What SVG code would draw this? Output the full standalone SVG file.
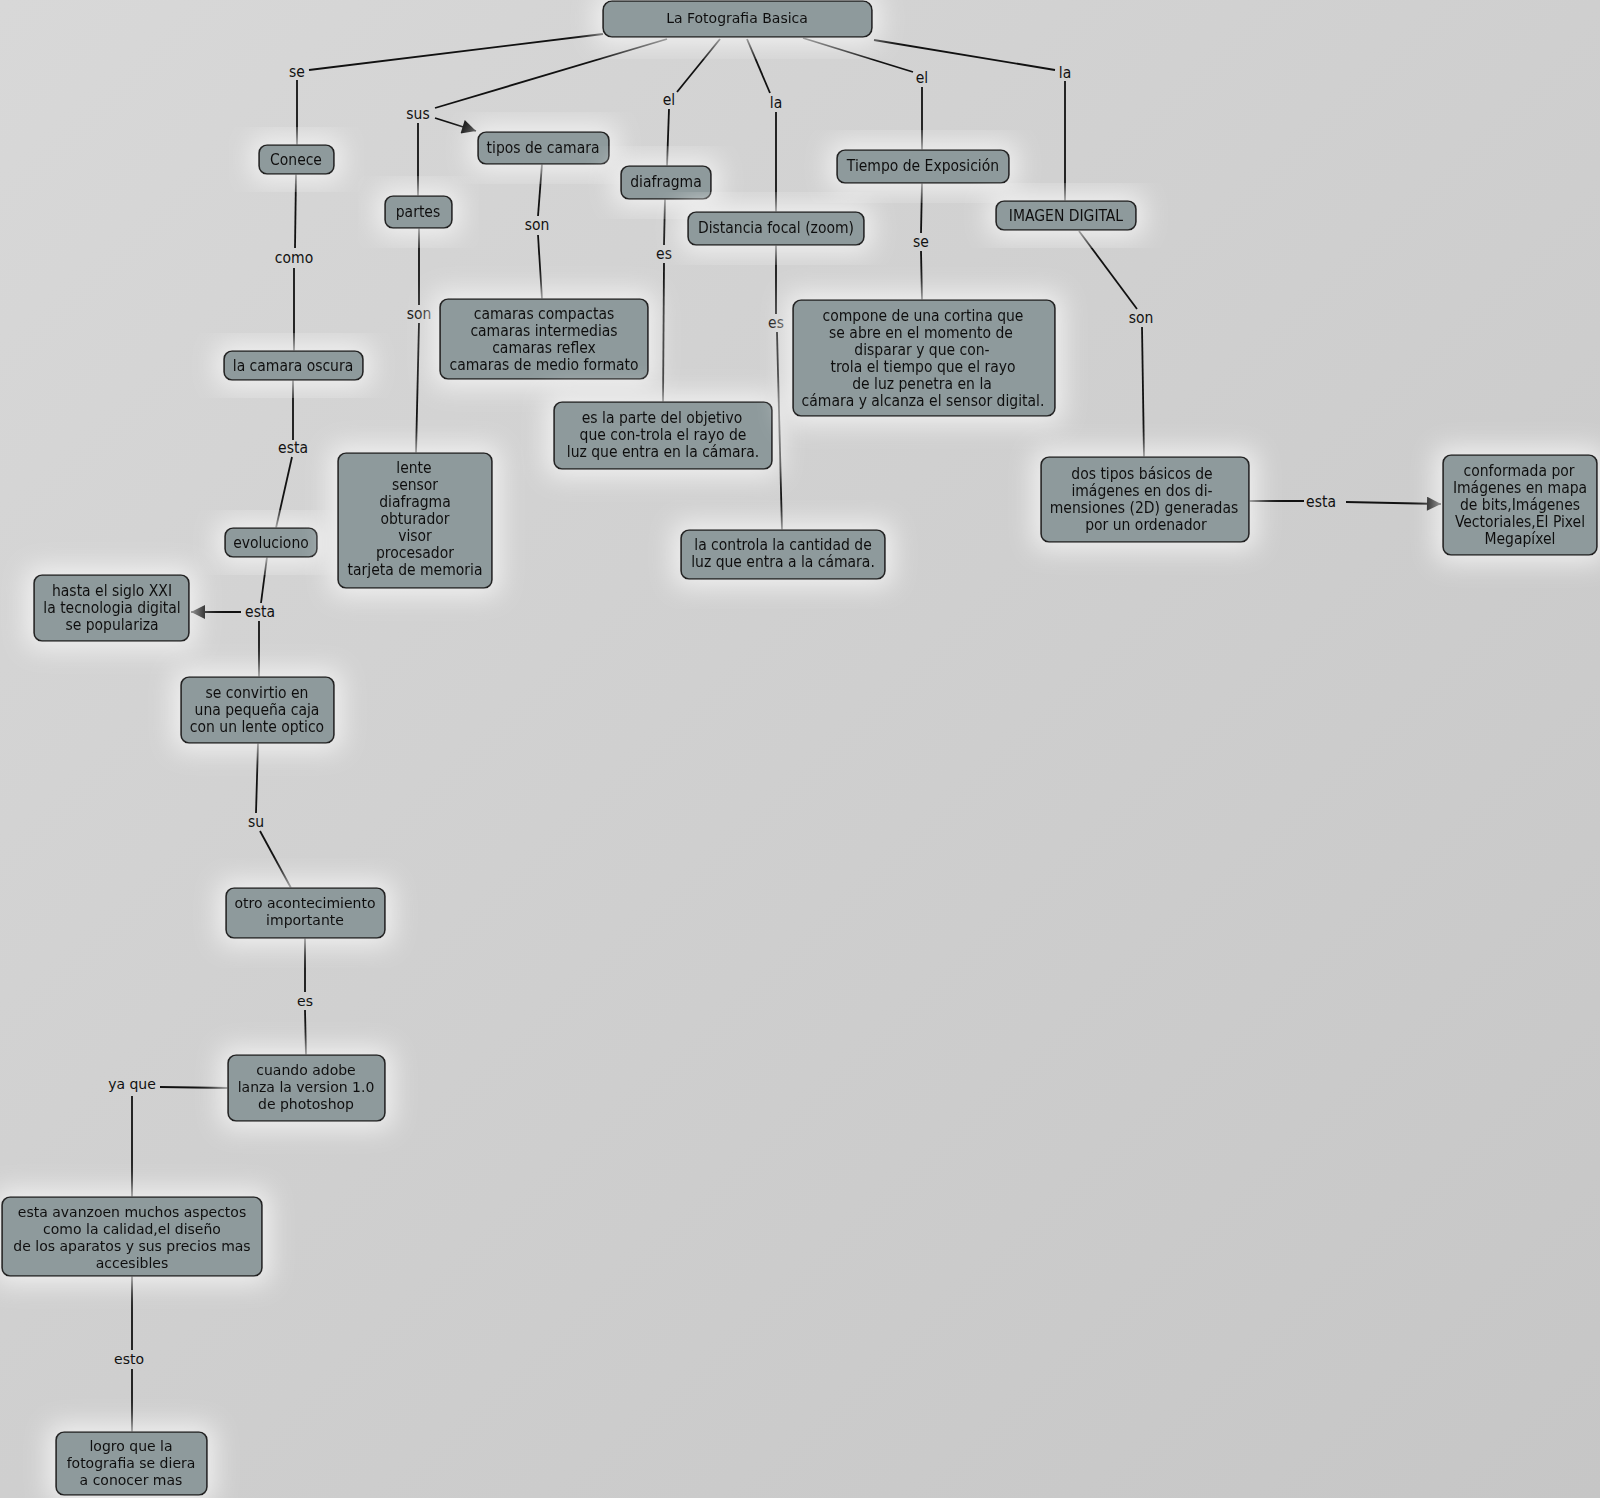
<svg xmlns="http://www.w3.org/2000/svg" width="1600" height="1498" viewBox="0 0 1600 1498">
<defs>
<linearGradient id="bg" x1="0" y1="0" x2="1" y2="1">
<stop offset="0" stop-color="#d8d8d8"/>
<stop offset="1" stop-color="#c6c6c6"/>
</linearGradient>
<filter id="glow" x="-40%" y="-60%" width="180%" height="220%">
<feMorphology in="SourceAlpha" operator="dilate" radius="7" result="d"/>
<feGaussianBlur in="d" stdDeviation="13" result="b"/>
<feFlood flood-color="#f4f4f4" flood-opacity="0.9"/>
<feComposite in2="b" operator="in" result="g"/>
<feMerge><feMergeNode in="g"/><feMergeNode in="SourceGraphic"/></feMerge>
</filter>
<marker id="arr" viewBox="0 0 10 10" refX="10" refY="5" markerWidth="15" markerHeight="14" markerUnits="userSpaceOnUse" orient="auto">
<path d="M0,0 L10,5 L0,10 z" fill="#000"/>
</marker>
<style>
.n rect{fill:#8e9a9c;stroke:#222;stroke-width:1.7}
.n{filter:url(#glow)}
.t{font-family:"DejaVu Sans Condensed","DejaVu Sans",sans-serif;font-stretch:condensed;font-size:15.5px;fill:#111;text-anchor:middle}
.w{font-family:"DejaVu Sans",Verdana,sans-serif;font-size:14px;fill:#111;text-anchor:middle}
.c line{stroke:#111;stroke-width:1.8}
.l{font-family:"DejaVu Sans Condensed","DejaVu Sans",sans-serif;font-stretch:condensed;font-size:15.5px;fill:#111;text-anchor:middle}
.lw{font-family:"DejaVu Sans",Verdana,sans-serif;font-size:14px;fill:#111;text-anchor:middle}
</style>
</defs>
<rect x="0" y="0" width="1600" height="1498" fill="url(#bg)"/>

<g id="connectors" class="c">
<line x1="603" y1="34" x2="309" y2="70"/>
<line x1="297" y1="80" x2="297" y2="145"/>
<line x1="296" y1="174" x2="295" y2="248"/>
<line x1="294" y1="268" x2="294" y2="351"/>
<line x1="293" y1="380" x2="293" y2="440"/>
<line x1="292" y1="457" x2="276" y2="528"/>
<line x1="267" y1="557" x2="261" y2="603"/>
<line x1="241" y1="612" x2="191" y2="612" marker-end="url(#arr)"/>
<line x1="259" y1="621" x2="259" y2="677"/>
<line x1="258" y1="743" x2="256" y2="813"/>
<line x1="260" y1="831" x2="291" y2="888"/>
<line x1="305" y1="938" x2="305" y2="992"/>
<line x1="305" y1="1010" x2="306" y2="1055"/>
<line x1="228" y1="1088" x2="160" y2="1087"/>
<line x1="132" y1="1096" x2="132" y2="1197"/>
<line x1="132" y1="1276" x2="132" y2="1350"/>
<line x1="132" y1="1369" x2="132" y2="1432"/>
<line x1="667" y1="39" x2="435" y2="108"/>
<line x1="435" y1="118" x2="476" y2="131" marker-end="url(#arr)"/>
<line x1="418" y1="123" x2="418" y2="196"/>
<line x1="419" y1="228" x2="419" y2="305"/>
<line x1="419" y1="323" x2="416" y2="453"/>
<line x1="542" y1="164" x2="538" y2="216"/>
<line x1="538" y1="235" x2="542" y2="299"/>
<line x1="720" y1="39" x2="677" y2="92"/>
<line x1="669" y1="109" x2="667" y2="166"/>
<line x1="665" y1="199" x2="664" y2="245"/>
<line x1="664" y1="263" x2="663" y2="402"/>
<line x1="747" y1="39" x2="770" y2="93"/>
<line x1="776" y1="112" x2="776" y2="212"/>
<line x1="776" y1="245" x2="776" y2="314"/>
<line x1="777" y1="332" x2="782" y2="530"/>
<line x1="803" y1="38" x2="913" y2="72"/>
<line x1="922" y1="87" x2="922" y2="150"/>
<line x1="922" y1="183" x2="921" y2="233"/>
<line x1="921" y1="251" x2="922" y2="300"/>
<line x1="874" y1="40" x2="1055" y2="70"/>
<line x1="1065" y1="81" x2="1065" y2="201"/>
<line x1="1079" y1="231" x2="1137" y2="309"/>
<line x1="1142" y1="327" x2="1144" y2="457"/>
<line x1="1249" y1="501" x2="1304" y2="501"/>
<line x1="1346" y1="502" x2="1441" y2="504" marker-end="url(#arr)"/>
</g>

<g id="labels">
<text class="l" x="297" y="77">se</text>
<text class="l" x="418" y="119">sus</text>
<text class="l" x="669" y="105">el</text>
<text class="l" x="776" y="108">la</text>
<text class="l" x="922" y="83">el</text>
<text class="l" x="1065" y="78">la</text>
<text class="l" x="294" y="263">como</text>
<text class="l" x="419" y="319">son</text>
<text class="l" x="537" y="230">son</text>
<text class="l" x="664" y="259">es</text>
<text class="l" x="776" y="328">es</text>
<text class="l" x="921" y="247">se</text>
<text class="l" x="1141" y="323">son</text>
<text class="l" x="293" y="453">esta</text>
<text class="l" x="260" y="617">esta</text>
<text class="l" x="256" y="827">su</text>
<text class="lw" x="305" y="1006">es</text>
<text class="lw" x="132" y="1089">ya que</text>
<text class="lw" x="129" y="1364">esto</text>
<text class="l" x="1321" y="507">esta</text>
</g>

<g id="n-root" class="n"><rect x="603" y="1" width="269" height="36" rx="9"/><text class="w" x="737" y="23">La Fotografia Basica</text></g>
<g id="n-conece" class="n"><rect x="259" y="145" width="75" height="29" rx="8"/><text class="t" x="296" y="165">Conece</text></g>
<g id="n-oscura" class="n"><rect x="224" y="351" width="139" height="29" rx="8"/><text class="t" x="293" y="371">la camara oscura</text></g>
<g id="n-evoluciono" class="n"><rect x="225" y="528" width="92" height="29" rx="8"/><text class="t" x="271" y="548">evoluciono</text></g>
<g id="n-hasta" class="n"><rect x="34" y="575" width="155" height="66" rx="8"/><text class="t" x="112" y="596">hasta el siglo XXI</text><text class="t" x="112" y="613">la tecnologia digital</text><text class="t" x="112" y="630">se populariza</text></g>
<g id="n-convirtio" class="n"><rect x="181" y="677" width="153" height="66" rx="8"/><text class="t" x="257" y="698">se convirtio en</text><text class="t" x="257" y="715">una pequeña caja</text><text class="t" x="257" y="732">con un lente optico</text></g>
<g id="n-otro" class="n"><rect x="226" y="888" width="159" height="50" rx="8"/><text class="w" x="305" y="908">otro acontecimiento</text><text class="w" x="305" y="925">importante</text></g>
<g id="n-cuando" class="n"><rect x="228" y="1055" width="157" height="66" rx="8"/><text class="w" x="306" y="1075">cuando adobe</text><text class="w" x="306" y="1092">lanza la version 1.0</text><text class="w" x="306" y="1109">de photoshop</text></g>
<g id="n-avanzo" class="n"><rect x="2" y="1197" width="260" height="79" rx="8"/><text class="w" x="132" y="1217">esta avanzoen muchos aspectos</text><text class="w" x="132" y="1234">como la calidad,el diseño</text><text class="w" x="132" y="1251">de los aparatos y sus precios mas</text><text class="w" x="132" y="1268">accesibles</text></g>
<g id="n-logro" class="n"><rect x="56" y="1432" width="151" height="63" rx="8"/><text class="w" x="131" y="1451">logro que la</text><text class="w" x="131" y="1468">fotografia se diera</text><text class="w" x="131" y="1485">a conocer mas</text></g>
<g id="n-partes" class="n"><rect x="385" y="196" width="67" height="32" rx="8"/><text class="t" x="418" y="217">partes</text></g>
<g id="n-lente" class="n"><rect x="338" y="453" width="154" height="135" rx="8"/><text class="t" x="414" y="473">lente</text><text class="t" x="415" y="490">sensor</text><text class="t" x="415" y="507">diafragma</text><text class="t" x="415" y="524">obturador</text><text class="t" x="415" y="541">visor</text><text class="t" x="415" y="558">procesador</text><text class="t" x="415" y="575">tarjeta de memoria</text></g>
<g id="n-tipos" class="n"><rect x="478" y="132" width="131" height="32" rx="8"/><text class="t" x="543" y="153">tipos de camara</text></g>
<g id="n-camaras" class="n"><rect x="440" y="299" width="208" height="80" rx="8"/><text class="t" x="544" y="319">camaras compactas</text><text class="t" x="544" y="336">camaras intermedias</text><text class="t" x="544" y="353">camaras reflex</text><text class="t" x="544" y="370">camaras de medio formato</text></g>
<g id="n-diafragma" class="n"><rect x="621" y="166" width="90" height="33" rx="8"/><text class="t" x="666" y="187">diafragma</text></g>
<g id="n-parte" class="n"><rect x="554" y="402" width="218" height="67" rx="8"/><text class="t" x="662" y="423">es la parte del objetivo</text><text class="t" x="663" y="440">que con-trola el rayo de</text><text class="t" x="663" y="457">luz que entra en la cámara.</text></g>
<g id="n-distancia" class="n"><rect x="688" y="212" width="176" height="33" rx="8"/><text class="t" x="776" y="233">Distancia focal (zoom)</text></g>
<g id="n-controla" class="n"><rect x="681" y="530" width="204" height="49" rx="8"/><text class="t" x="783" y="550">la controla la cantidad de</text><text class="t" x="783" y="567">luz que entra a la cámara.</text></g>
<g id="n-tiempo" class="n"><rect x="837" y="150" width="172" height="33" rx="8"/><text class="t" x="923" y="171">Tiempo de Exposición</text></g>
<g id="n-compone" class="n"><rect x="793" y="300" width="262" height="116" rx="8"/><text class="t" x="923" y="321">compone de una cortina que</text><text class="t" x="921" y="338">se abre en el momento de</text><text class="t" x="922" y="355">disparar y que con-</text><text class="t" x="923" y="372">trola el tiempo que el rayo</text><text class="t" x="922" y="389">de luz penetra en la</text><text class="t" x="923" y="406">cámara y alcanza el sensor digital.</text></g>
<g id="n-imagen" class="n"><rect x="996" y="201" width="140" height="29" rx="8"/><text class="t" x="1066" y="221">IMAGEN DIGITAL</text></g>
<g id="n-dos" class="n"><rect x="1041" y="457" width="208" height="85" rx="8"/><text class="t" x="1142" y="479">dos tipos básicos de</text><text class="t" x="1142" y="496">imágenes en dos di-</text><text class="t" x="1144" y="513">mensiones (2D) generadas</text><text class="t" x="1146" y="530">por un ordenador</text></g>
<g id="n-conformada" class="n"><rect x="1443" y="455" width="154" height="100" rx="8"/><text class="t" x="1519" y="476">conformada por</text><text class="t" x="1520" y="493">Imágenes en mapa</text><text class="t" x="1520" y="510">de bits,Imágenes</text><text class="t" x="1520" y="527">Vectoriales,El Pixel</text><text class="t" x="1520" y="544">Megapíxel</text></g>
</svg>
